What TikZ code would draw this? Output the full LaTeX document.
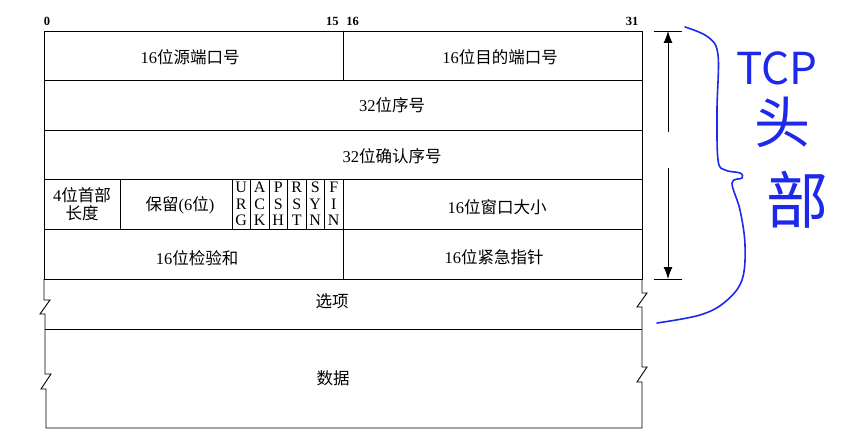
\documentclass[tikz,border=0pt]{standalone}
\usepackage{fontspec}
\usepackage{tikz}
\usetikzlibrary{arrows.meta}
\setmainfont{Liberation Serif}
\newfontfamily\cjk{Noto Sans CJK SC}
\definecolor{penblue}{RGB}{30,40,235}

\begin{document}
\begin{tikzpicture}[x=1pt,y=-1pt,line width=0.9pt,
                    field/.style={font=\fontsize{16.5}{18}\selectfont,align=center,inner sep=0pt},
                    flag/.style={font=\fontsize{16}{16.5}\selectfont,align=center,inner sep=0pt},
                    bitnum/.style={font=\bfseries\fontsize{12.5}{12.5}\selectfont,inner sep=0pt},
                    pen/.style={penblue,line width=1.6pt,line cap=round,line join=round},
                    ink/.style={penblue,inner sep=0pt}]
    \useasboundingbox (0,0) rectangle (845,446);
    % header rows
    \draw (44,31) rectangle (642,279);
    \draw (44,80) -- (642,80);
    \draw (44,130) -- (642,130);
    \draw (44,179) -- (642,179);
    \draw (44,229) -- (642,229);
    \draw (343,31) -- (343,80);
    \draw (343,179) -- (343,279);
    \draw (120,179) -- (120,229);
    \foreach \i in {0,...,5}
        \draw (232+18.5*\i,179) -- (232+18.5*\i,229);
    % options and data, broken sides
    \draw (44,279) -- (44,300) -- (50,300) -- (40,314) -- (45,314) -- (45,374)
          -- (51,374) -- (41,389) -- (46,389) -- (46,428) -- (642,428)
          -- (642,382) -- (637,382) -- (647,367) -- (642,367) -- (642,307)
          -- (637,307) -- (647,293) -- (642,293) -- (642,279);
    \draw (45,329) -- (642,329);
    % bit numbers
    \node[bitnum] (bit0) at (47,21) {0};
    \node[bitnum,anchor=east] (bit15) at (339,21) {15};
    \node[bitnum,anchor=west] (bit16) at (346,21) {16};
    \node[bitnum] (bit31) at (632,21) {31};
    % fields
    \node[field] (srcport) at (190,57) {16{\cjk 位源端口号}};
    \node[field] (dstport) at (500,57) {16{\cjk 位目的端口号}};
    \node[field] (seqno) at (392,105) {32{\cjk 位序号}};
    \node[field] (ackno) at (392,156) {32{\cjk 位确认序号}};
    \node[field] (hdrlen) at (82,204) {4{\cjk 位首部}\\{\cjk 长度}};
    \node[field] (reserved) at (180,205) {{\cjk 保留}(6{\cjk 位})};
    \node[flag] (urg) at (241.25,204) {U\\R\\G};
    \node[flag] (ack) at (259.75,204) {A\\C\\K};
    \node[flag] (psh) at (278.25,204) {P\\S\\H};
    \node[flag] (rst) at (296.75,204) {R\\S\\T};
    \node[flag] (syn) at (315.25,204) {S\\Y\\N};
    \node[flag] (fin) at (333.75,204) {F\\I\\N};
    \node[field] (window) at (497,207) {16{\cjk 位窗口大小}};
    \node[field] (checksum) at (197,258) {16{\cjk 位检验和}};
    \node[field] (urgent) at (494,257) {16{\cjk 位紧急指针}};
    \node[field] (options) at (332,301) {\cjk 选项};
    \node[field] (payload) at (333,378) {\cjk 数据};
    % header length arrow
    \coordinate (hdtop) at (668,31);
    \coordinate (hdbot) at (668,279);
    \coordinate (gapa) at (668,132);
    \coordinate (gapb) at (668,168);
    \draw (654,31) -- (682,31);
    \draw (654,279) -- (682,279);
    \draw[-{Latex[length=12pt,width=9pt]}] (gapa) -- (hdtop);
    \draw[-{Latex[length=12pt,width=9pt]}] (gapb) -- (hdbot);
    % handwritten brace
    \draw[pen] plot[smooth,tension=0.6] coordinates {(685,27) (708,37) (718,55) (717,110)
          (718,160) (725,170) (740,173) (742,178) (732,183) (740,210) (745,245)
          (742,280) (725,302) (700,315) (657,323)};
    \node[ink,font=\cjk\fontsize{44}{44}\selectfont] (tcp) at (777,68) {TCP};
    \node[ink,font=\cjk\fontsize{56}{56}\selectfont] (tou) at (782,122) {头};
    \node[ink,font=\cjk\fontsize{62}{62}\selectfont] (bu) at (797,200) {部};
\end{tikzpicture}
\end{document}
